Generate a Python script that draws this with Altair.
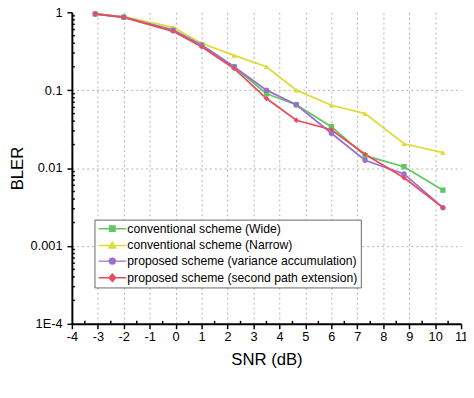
import altair as alt
import pandas as pd

snr = [-3.1, -2, -0.1, 1, 2.25, 3.5, 4.65, 6, 7.3, 8.8, 10.3]
names = [
    "conventional scheme (Wide)",
    "conventional scheme (Narrow)",
    "proposed scheme (variance accumulation)",
    "proposed scheme (second path extension)",
]
wide = [0.95, 0.865, 0.59, 0.38, 0.20, 0.09, 0.065, 0.034, 0.0144, 0.0104, 0.0052]
narrow = [0.95, 0.88, 0.64, 0.40, 0.28, 0.20, 0.10, 0.064, 0.050, 0.0205, 0.0158]
variance = [0.95, 0.865, 0.59, 0.38, 0.20, 0.10, 0.065, 0.028, 0.0126, 0.0084, 0.0031]
second = [0.95, 0.86, 0.57, 0.36, 0.19, 0.078, 0.041, 0.031, 0.015, 0.0075, 0.0031]
colors = ["#62c662", "#dedb38", "#9a70cf", "#e84c5c"]
shapes = ["square", "triangle-up", "circle", "diamond"]

y_major = [1, 0.1, 0.01, 0.001, 0.0001]
y_labels = ["1", "0.1", "0.01", "0.001", "1E-4"]
y_minor = [round(m * 10 ** e, 6) for e in range(-4, 0) for m in range(2, 10)]
x_major = list(range(-4, 12))
x_minor = [v + 0.5 for v in range(-4, 11)]

W, H = 396, 317

series = [wide, narrow, variance, second]
rows = []
for n, s in zip(names, series):
    for x, y in zip(snr, s):
        rows.append({"snr": x, "bler": y, "scheme": n})
df = pd.DataFrame(rows)

label_expr = " : ".join(
    f"datum.value == {v} ? '{l}'" for v, l in zip(y_major, y_labels)
) + " : ''"

# legend symbols: line + marker (custom paths, unit = 3px)
line_p = "M-1.67,0H7.67"
sym_paths = [
    line_p + "M2.1,-0.9H3.9V0.9H2.1Z",
    line_p + "M3,-1.15L4.15,0.85H1.85Z",
    line_p + "M2,0A1,1 0 1,1 4,0A1,1 0 1,1 2,0Z",
    line_p + "M3,-1.25L4.1,0L3,1.25L1.9,0Z",
]
shape_sig = " : ".join(
    f"datum.value === '{n}' ? '{p}'" for n, p in zip(names, sym_paths)
) + " : 'circle'"
color_sig = " : ".join(
    f"datum.value === '{n}' ? '{c}'" for n, c in zip(names, colors)
) + " : 'black'"

color_scale = alt.Scale(domain=names, range=colors)
x_scale = alt.Scale(domain=[-4, 11], nice=False, zero=False)
y_scale = alt.Scale(type="log", domain=[0.0001, 1], nice=False)

x_axis = alt.Axis(
    values=x_major,
    labelExpr="'' + datum.value",
    labelOverlap=False,
    labelFlush=False,
    labelBound=False,
    tickSize=5,
    gridOpacity={
        "condition": {"test": "datum.value > -4 && datum.value < 11", "value": 1},
        "value": 0,
    },
    labelPadding=2,
    titlePadding=8,
)
y_axis = alt.Axis(
    values=y_major,
    labelExpr=label_expr,
    labelOverlap=False,
    labelFlush=False,
    labelBound=False,
    tickSize=5,
    gridOpacity={
        "condition": {"test": "datum.value < 0.5 && datum.value > 0.0005", "value": 1},
        "value": 0,
    },
    labelPadding=5,
    titlePadding=4,
)
x_enc = alt.X("snr:Q", scale=x_scale, title="SNR (dB)", axis=x_axis)
y_enc = alt.Y("bler:Q", scale=y_scale, title="BLER", axis=y_axis)

base = alt.Chart(df)
lines = base.mark_line(strokeWidth=1.8).encode(
    x=x_enc,
    y=y_enc,
    color=alt.Color(
        "scheme:N",
        scale=color_scale,
        sort=names,
        legend=alt.Legend(
            orient="none",
            legendX=23,
            legendY=211,
            title=None,
            strokeColor="#666666",
            fillColor="white",
            padding=3,
            symbolSize=36,
            symbolStrokeWidth=1.5,
            symbolType=alt.ExprRef(shape_sig),
            symbolFillColor=alt.ExprRef(color_sig),
            symbolStrokeColor=alt.ExprRef(color_sig),
            symbolOpacity=1,
            labelOffset=18,
            labelLimit=0,
            labelFont="Liberation Sans",
            labelFontSize=12.4,
            labelColor="black",
            rowPadding=3,
        ),
    ),
)
point_layers = []
for n, c, sh in zip(names, colors, shapes):
    point_layers.append(
        base.transform_filter(alt.datum.scheme == n)
        .mark_point(filled=True, size=30, opacity=1, shape=sh, color=c)
        .encode(x=x_enc, y=y_enc)
    )

# inward minor ticks
xminor_df = pd.DataFrame({"snr": x_minor})
yminor_df = pd.DataFrame({"bler": y_minor})
xminor = (
    alt.Chart(xminor_df)
    .mark_rule(color="black", strokeWidth=1.5)
    .encode(x=x_enc, y=alt.value(H - 3), y2=alt.value(H))
)
yminor = (
    alt.Chart(yminor_df)
    .mark_rule(color="black", strokeWidth=1.5)
    .encode(y=y_enc, x=alt.value(0), x2=alt.value(3))
)

chart = (
    alt.layer(lines, *point_layers, xminor, yminor)
    .properties(
        width=W,
        height=H,
        autosize=alt.AutoSizeParams(type="none"),
        padding={"left": 65, "top": 1, "right": 5, "bottom": 64},
        background="white",
    )
    .configure_view(stroke=None)
    .configure_axis(
        domainColor="black",
        domainWidth=2,
        tickColor="black",
        tickWidth=1.5,
        labelFont="Liberation Sans",
        labelFontSize=13,
        labelColor="black",
        labelOverlap=False,
        titleFont="Liberation Sans",
        titleFontSize=17,
        titleFontWeight="normal",
        titleColor="black",
        grid=True,
        gridColor="#b0b0b0",
        gridDash=[2, 3],
        gridWidth=1,
    )
)

chart.save("out.html", embed_options={"renderer": "svg", "actions": False})
